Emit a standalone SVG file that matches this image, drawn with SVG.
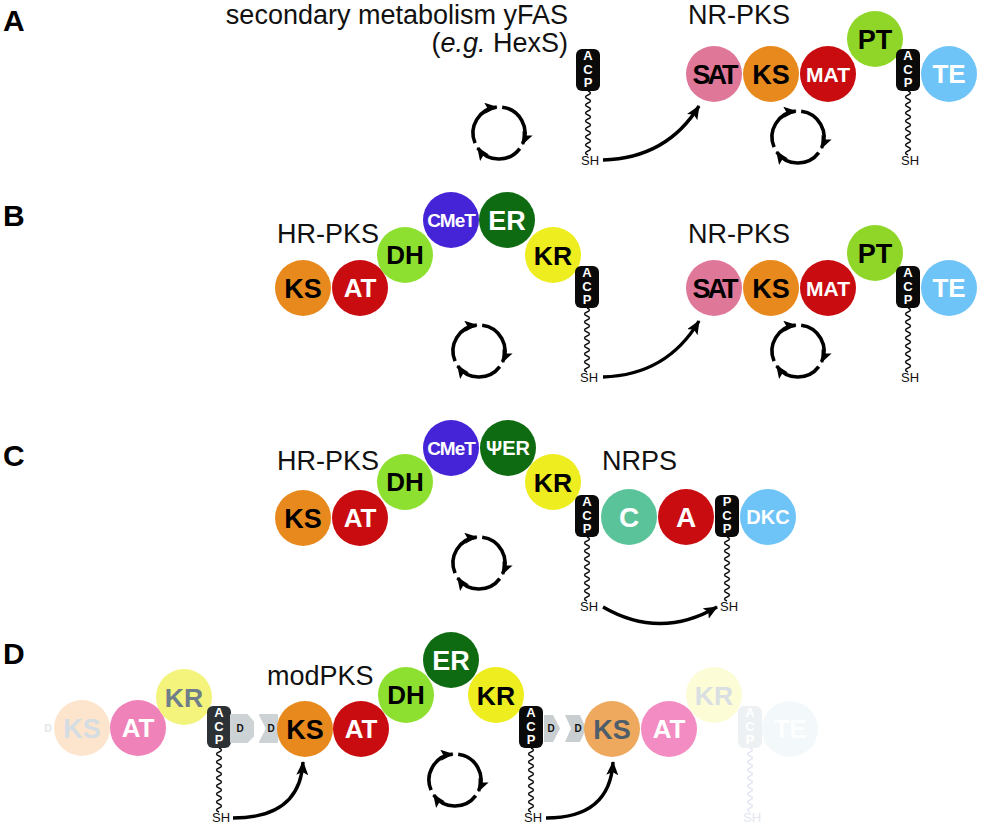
<svg xmlns="http://www.w3.org/2000/svg" width="981" height="826" viewBox="0 0 981 826">
<style>
text{font-family:"Liberation Sans",Arial,Helvetica,sans-serif}
.pl{font-size:30px;font-weight:bold;fill:#000}
.lb{font-size:27px;fill:#111}
.e{font-weight:bold;text-anchor:middle}
.acp{fill:#0a0a0a}
.at{font-size:13px;font-weight:bold;fill:#fff;writing-mode:vertical-rl;text-orientation:upright;letter-spacing:-1.5px}
.wave{fill:none;stroke:#111;stroke-width:1.4}
.sh{font-size:13px;fill:#111;text-anchor:middle}
.arr{fill:none;stroke:#000;stroke-width:3.4;marker-end:url(#ah)}
.cy{fill:none;stroke:#000;stroke-width:3.6;marker-end:url(#ahs)}
.dd{font-size:10px;font-weight:bold;text-anchor:middle;fill:#111}
</style>
<defs>
<marker id="ah" viewBox="0 0 14 12" refX="13" refY="6" markerWidth="14" markerHeight="12" markerUnits="userSpaceOnUse" orient="auto"><path d="M0,0 L14,6 L0,12 L3,6 z" fill="#000"/></marker>
<marker id="ahs" viewBox="0 0 13 11" refX="12" refY="5.5" markerWidth="13" markerHeight="11" markerUnits="userSpaceOnUse" orient="auto"><path d="M0,0 L13,5.5 L0,11 L2.5,5.5 z" fill="#000"/></marker>
<path id="wave" d="M0,0 q5,2 0,4 q-5,2 0,4 q5,2 0,4 q-5,2 0,4 q5,2 0,4 q-5,2 0,4 q5,2 0,4 q-5,2 0,4 q5,2 0,4 q-5,2 0,4 q5,2 0,4 q-5,2 0,4 q5,2 0,4 q-5,2 0,4 q5,2 0,4 q-5,2 0,4"/>
<g id="cyc">
<path class="cy" d="M-23.93,10.16 A26,26 0 0 1 -2.27,-25.9"/>
<path class="cy" d="M3.17,-25.81 A26,26 0 0 1 23.56,10.99"/>
<path class="cy" d="M20.76,15.65 A26,26 0 0 1 -21.3,14.91"/>
</g>
</defs>

<!-- Panel A -->
<g id="panelA">
<text class="pl" x="3" y="31">A</text>
<text class="lb" x="568" y="24" text-anchor="end" font-size="27.5">secondary metabolism yFAS</text>
<text class="lb" x="568" y="52" text-anchor="end" font-size="27.5">(<tspan font-style="italic">e.g.</tspan> HexS)</text>
<text class="lb" x="688" y="24">NR-PKS</text>
<g id="a-acp1"><rect class="acp" x="576" y="49" width="24" height="42" rx="6"/><text class="at" x="588" y="48">ACP</text><use href="#wave" x="588" y="91" class="wave"/><text class="sh" x="590" y="165">SH</text></g>
<g id="a-sat"><circle cx="714" cy="74" r="28" fill="#df7799"/><text class="e" x="714" y="83.5" font-size="27" letter-spacing="-3" fill="#000">SAT</text></g>
<g id="a-ks"><circle cx="771" cy="74" r="28" fill="#e8891e"/><text class="e" x="771" y="83.5" font-size="27" fill="#000">KS</text></g>
<g id="a-mat"><circle cx="828" cy="74" r="28" fill="#c90c0f"/><text class="e" x="828" y="81.5" font-size="21" fill="#fff">MAT</text></g>
<g id="a-pt"><circle cx="875" cy="39" r="28" fill="#8fd629"/><text class="e" x="875" y="48.5" font-size="27" fill="#000">PT</text></g>
<g id="a-acp2"><rect class="acp" x="896" y="49" width="24" height="42" rx="6"/><text class="at" x="908" y="48">ACP</text><use href="#wave" x="908" y="91" class="wave"/><text class="sh" x="910" y="165">SH</text></g>
<g id="a-te"><circle cx="949" cy="74" r="28" fill="#6ec3f7"/><text class="e" x="949" y="83" font-size="26" fill="#fff">TE</text></g>
<use id="a-cyc1" href="#cyc" x="499" y="133"/>
<use id="a-cyc2" href="#cyc" x="798" y="137"/>
</g>

<!-- Panel B -->
<g id="panelB">
<text class="pl" x="3" y="226">B</text>
<text class="lb" x="277" y="243">HR-PKS</text>
<text class="lb" x="688" y="243">NR-PKS</text>
<g id="b-ks"><circle cx="303" cy="288" r="28" fill="#e8891e"/><text class="e" x="303" y="297.5" font-size="27" fill="#000">KS</text></g>
<g id="b-at"><circle cx="360" cy="288" r="28" fill="#c90c0f"/><text class="e" x="360" y="297" font-size="26" fill="#fff">AT</text></g>
<g id="b-dh"><circle cx="405" cy="255" r="28" fill="#8ee030"/><text class="e" x="405" y="264" font-size="26" fill="#000">DH</text></g>
<g id="b-cmet"><circle cx="451" cy="220" r="28" fill="#4424d6"/><text class="e" x="451" y="227" font-size="19" letter-spacing="-1" fill="#fff">CMeT</text></g>
<g id="b-er"><circle cx="507" cy="220" r="28" fill="#0f6b12"/><text class="e" x="507" y="229.5" font-size="27" fill="#fff">ER</text></g>
<g id="b-kr"><circle cx="553" cy="255" r="28" fill="#eded1f"/><text class="e" x="553" y="264.5" font-size="26.5" fill="#000">KR</text></g>
<g id="b-acp1"><rect class="acp" x="575" y="266" width="24" height="42" rx="6"/><text class="at" x="587" y="265">ACP</text><use href="#wave" x="587" y="308" class="wave"/><text class="sh" x="589" y="382">SH</text></g>
<g id="b-sat"><circle cx="714" cy="288" r="28" fill="#df7799"/><text class="e" x="714" y="297.5" font-size="27" letter-spacing="-3" fill="#000">SAT</text></g>
<g id="b-ks2"><circle cx="771" cy="288" r="28" fill="#e8891e"/><text class="e" x="771" y="297.5" font-size="27" fill="#000">KS</text></g>
<g id="b-mat"><circle cx="828" cy="288" r="28" fill="#c90c0f"/><text class="e" x="828" y="295.5" font-size="21" fill="#fff">MAT</text></g>
<g id="b-pt"><circle cx="875" cy="253" r="28" fill="#8fd629"/><text class="e" x="875" y="262.5" font-size="27" fill="#000">PT</text></g>
<g id="b-acp2"><rect class="acp" x="896" y="266" width="24" height="42" rx="6"/><text class="at" x="908" y="265">ACP</text><use href="#wave" x="908" y="308" class="wave"/><text class="sh" x="910" y="382">SH</text></g>
<g id="b-te"><circle cx="949" cy="288" r="28" fill="#6ec3f7"/><text class="e" x="949" y="297" font-size="26" fill="#fff">TE</text></g>
<use id="b-cyc1" href="#cyc" x="479" y="351"/>
<use id="b-cyc2" href="#cyc" x="798" y="351"/>
</g>

<!-- Panel C -->
<g id="panelC">
<text class="pl" x="3" y="466">C</text>
<text class="lb" x="277" y="470">HR-PKS</text>
<text class="lb" x="602" y="470">NRPS</text>
<g id="c-ks"><circle cx="303" cy="518" r="28" fill="#e8891e"/><text class="e" x="303" y="527.5" font-size="27" fill="#000">KS</text></g>
<g id="c-at"><circle cx="360" cy="518" r="28" fill="#c90c0f"/><text class="e" x="360" y="527" font-size="26" fill="#fff">AT</text></g>
<g id="c-dh"><circle cx="405" cy="482" r="28" fill="#8ee030"/><text class="e" x="405" y="491" font-size="26" fill="#000">DH</text></g>
<g id="c-cmet"><circle cx="451" cy="448" r="28" fill="#4424d6"/><text class="e" x="451" y="455" font-size="19" letter-spacing="-1" fill="#fff">CMeT</text></g>
<g id="c-per"><circle cx="508" cy="448" r="28" fill="#0f6b12"/><text class="e" x="508" y="455" font-size="20" fill="#fff">ΨER</text></g>
<g id="c-kr"><circle cx="553" cy="482" r="28" fill="#eded1f"/><text class="e" x="553" y="491.5" font-size="26.5" fill="#000">KR</text></g>
<g id="c-acp"><rect class="acp" x="575" y="495" width="24" height="42" rx="6"/><text class="at" x="587" y="494">ACP</text><use href="#wave" x="587" y="537" class="wave"/><text class="sh" x="589" y="611">SH</text></g>
<g id="c-c"><circle cx="629" cy="517" r="28" fill="#5bc39a"/><text class="e" x="629" y="527" font-size="28" fill="#fff">C</text></g>
<g id="c-a"><circle cx="686" cy="517" r="28" fill="#c90c0f"/><text class="e" x="686" y="527" font-size="28" fill="#fff">A</text></g>
<g id="c-pcp"><rect class="acp" x="715" y="495" width="24" height="42" rx="6"/><text class="at" x="727" y="494">PCP</text><use href="#wave" x="727" y="537" class="wave"/><text class="sh" x="729" y="611">SH</text></g>
<g id="c-dkc"><circle cx="768" cy="517" r="28" fill="#6ec3f7"/><text class="e" x="768" y="524" font-size="20" fill="#fff">DKC</text></g>
<use id="c-cyc" href="#cyc" x="479" y="563"/>
</g>

<!-- Panel D -->
<g id="panelD">
<text class="pl" x="3" y="664">D</text>
<text class="lb" x="267" y="685">modPKS</text>
<g id="d-dfaint"><text class="dd" x="48" y="732" style="fill:#e4e6e8">D</text></g>
<g id="d-ks0"><circle cx="82" cy="728" r="28" fill="#fce5cc"/><text class="e" x="82" y="737.5" font-size="27" fill="#d4dde4">KS</text></g>
<g id="d-at0"><circle cx="138" cy="728" r="28" fill="#ef82b9"/><text class="e" x="138" y="737" font-size="26" fill="#fff">AT</text></g>
<g id="d-kr0"><circle cx="184" cy="697" r="28" fill="#f4f47c"/><text class="e" x="184" y="706.5" font-size="26.5" fill="#6f7e88">KR</text></g>
<g id="d-acp1"><rect x="207" y="706" width="24" height="42" rx="6" fill="#2b3135"/><text class="at" x="219" y="705">ACP</text><use href="#wave" x="219" y="748" class="wave"/><text class="sh" x="221" y="822">SH</text></g>
<g id="d-dd1"><path d="M231,715 L247,715 L253,722 L253,736 L247,742 L231,742 z" fill="#cdd2d5" stroke="#cdd2d5" stroke-width="2" stroke-linejoin="round"/><text class="dd" x="240" y="732">D</text></g>
<g id="d-dd2"><path d="M260,715 L277,715 L277,742 L260,742 L267,728.5 z" fill="#cdd2d5" stroke="#cdd2d5" stroke-width="2" stroke-linejoin="round"/><text class="dd" x="271" y="732">D</text></g>
<g id="d-ks1"><circle cx="305" cy="729" r="28" fill="#e8891e"/><text class="e" x="305" y="738.5" font-size="27" fill="#000">KS</text></g>
<g id="d-at1"><circle cx="361" cy="729" r="28" fill="#c90c0f"/><text class="e" x="361" y="738" font-size="26" fill="#fff">AT</text></g>
<g id="d-dh"><circle cx="406" cy="695" r="28" fill="#8ee030"/><text class="e" x="406" y="704" font-size="26" fill="#000">DH</text></g>
<g id="d-er"><circle cx="451" cy="660" r="28" fill="#0f6b12"/><text class="e" x="451" y="669.5" font-size="27" fill="#fff">ER</text></g>
<g id="d-kr1"><circle cx="496" cy="695" r="28" fill="#eded1f"/><text class="e" x="496" y="704.5" font-size="26.5" fill="#000">KR</text></g>
<g id="d-acp2"><rect class="acp" x="519" y="706" width="24" height="42" rx="6"/><text class="at" x="531" y="705">ACP</text><use href="#wave" x="531" y="748" class="wave"/><text class="sh" x="533" y="822">SH</text></g>
<g id="d-dd3"><path d="M544,715 L553,715 L560,728.5 L553,742 L544,742 z" fill="#c9ced1"/><text class="dd" x="551" y="732">D</text></g>
<g id="d-dd4"><path d="M565,715 L580,715 L586,728.5 L580,742 L565,742 L571,728.5 z" fill="#c9ced1"/><text class="dd" x="578" y="732">D</text></g>
<g id="d-ks2"><circle cx="612" cy="729" r="28" fill="#efa95f"/><text class="e" x="612" y="738.5" font-size="27" fill="#4e5d6a">KS</text></g>
<g id="d-at2"><circle cx="669" cy="729" r="28" fill="#f28cc2"/><text class="e" x="669" y="738" font-size="26" fill="#fff">AT</text></g>
<g id="d-kr2"><circle cx="714" cy="695" r="28" fill="#fcfcd6"/><text class="e" x="714" y="704.5" font-size="26.5" fill="#d9dfe3">KR</text></g>
<g id="d-acp3"><rect x="738" y="706" width="24" height="42" rx="6" fill="#eef1f3"/><text class="at" x="750" y="705">ACP</text><use href="#wave" x="750" y="748" style="fill:none;stroke:#e4e8f2;stroke-width:1.4"/><text class="sh" x="752" y="822" style="fill:#e2e6f0">SH</text></g>
<g id="d-te"><circle cx="790" cy="729" r="28" fill="#f3f9fa"/><text class="e" x="790" y="738" font-size="26" fill="#fdfefe">TE</text></g>
<use id="d-cyc" href="#cyc" x="455" y="780"/>
</g>

<!-- Connectors -->
<g id="connectors">
<path class="arr" d="M603,160 Q667,158 699,106"/>
<path class="arr" d="M603,377 Q667,375 699,321"/>
<path class="arr" d="M603,607 Q660,640 717,607"/>
<path class="arr" d="M233,818 Q300,818 303,762"/>
<path class="arr" d="M546,818 Q610,818 613,762"/>
</g>
</svg>
